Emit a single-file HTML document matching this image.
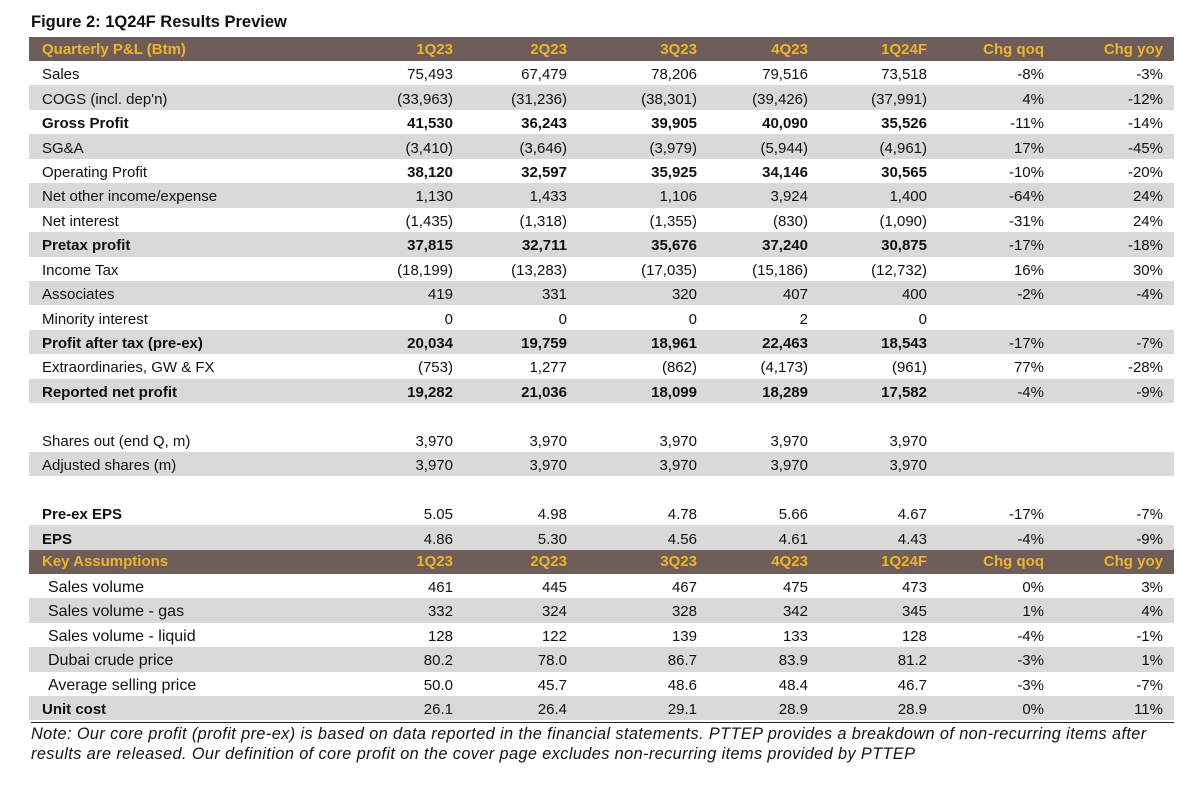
<!DOCTYPE html><html><head><style>
body{margin:0;width:1200px;height:790px;background:#fff;font-family:"Liberation Sans",Arial,sans-serif;position:relative;overflow:hidden;color:#111}
.t{position:absolute;left:31px;top:13px;font-size:16.5px;font-weight:bold}
table{position:absolute;left:29px;top:37px;width:1145px;border-collapse:collapse;font-size:15px;table-layout:fixed}
td{height:21.45px;padding:3px 0 0 0;line-height:21px;text-align:right;white-space:nowrap}
td:first-child{text-align:left;padding-left:13px}
td:last-child{padding-right:11px}
tr.h td{background:#6e5d59;color:#efb42a;font-weight:bold;padding-top:1px;height:23px;line-height:22px}
tr.g td{background:#d9d9d9}
tr.b td{font-weight:bold}
tr.k td:first-child{padding-left:19px;font-size:16px}
.ln{position:absolute;left:31px;top:722px;width:1143px;border-top:1.5px solid #222}
.n{position:absolute;left:31px;top:723px;width:1165px;font-size:16.3px;letter-spacing:0.4px;font-style:italic;line-height:20px;padding-top:1px;white-space:nowrap}
</style></head><body>
<div class="t">Figure 2: 1Q24F Results Preview</div>
<table>
<colgroup><col style="width:300px"><col style="width:124px"><col style="width:114px"><col style="width:130px"><col style="width:111px"><col style="width:119px"><col style="width:117px"><col style="width:130px"></colgroup>
<tr class="h"><td>Quarterly P&amp;L (Btm)</td><td>1Q23</td><td>2Q23</td><td>3Q23</td><td>4Q23</td><td>1Q24F</td><td>Chg qoq</td><td>Chg yoy</td></tr>
<tr><td>Sales</td><td>75,493</td><td>67,479</td><td>78,206</td><td>79,516</td><td>73,518</td><td>-8%</td><td>-3%</td></tr>
<tr class="g"><td>COGS (incl. dep'n)</td><td>(33,963)</td><td>(31,236)</td><td>(38,301)</td><td>(39,426)</td><td>(37,991)</td><td>4%</td><td>-12%</td></tr>
<tr class="b"><td>Gross Profit</td><td>41,530</td><td>36,243</td><td>39,905</td><td>40,090</td><td>35,526</td><td style="font-weight:normal">-11%</td><td style="font-weight:normal">-14%</td></tr>
<tr class="g"><td>SG&amp;A</td><td>(3,410)</td><td>(3,646)</td><td>(3,979)</td><td>(5,944)</td><td>(4,961)</td><td>17%</td><td>-45%</td></tr>
<tr class="b"><td style="font-weight:normal">Operating Profit</td><td>38,120</td><td>32,597</td><td>35,925</td><td>34,146</td><td>30,565</td><td style="font-weight:normal">-10%</td><td style="font-weight:normal">-20%</td></tr>
<tr class="g"><td>Net other income/expense</td><td>1,130</td><td>1,433</td><td>1,106</td><td>3,924</td><td>1,400</td><td>-64%</td><td>24%</td></tr>
<tr><td>Net interest</td><td>(1,435)</td><td>(1,318)</td><td>(1,355)</td><td>(830)</td><td>(1,090)</td><td>-31%</td><td>24%</td></tr>
<tr class="g b"><td>Pretax profit</td><td>37,815</td><td>32,711</td><td>35,676</td><td>37,240</td><td>30,875</td><td style="font-weight:normal">-17%</td><td style="font-weight:normal">-18%</td></tr>
<tr><td>Income Tax</td><td>(18,199)</td><td>(13,283)</td><td>(17,035)</td><td>(15,186)</td><td>(12,732)</td><td>16%</td><td>30%</td></tr>
<tr class="g"><td>Associates</td><td>419</td><td>331</td><td>320</td><td>407</td><td>400</td><td>-2%</td><td>-4%</td></tr>
<tr><td>Minority interest</td><td>0</td><td>0</td><td>0</td><td>2</td><td>0</td><td></td><td></td></tr>
<tr class="g b"><td>Profit after tax (pre-ex)</td><td>20,034</td><td>19,759</td><td>18,961</td><td>22,463</td><td>18,543</td><td style="font-weight:normal">-17%</td><td style="font-weight:normal">-7%</td></tr>
<tr><td>Extraordinaries, GW &amp; FX</td><td>(753)</td><td>1,277</td><td>(862)</td><td>(4,173)</td><td>(961)</td><td>77%</td><td>-28%</td></tr>
<tr class="g b"><td>Reported net profit</td><td>19,282</td><td>21,036</td><td>18,099</td><td>18,289</td><td>17,582</td><td style="font-weight:normal">-4%</td><td style="font-weight:normal">-9%</td></tr>
<tr><td></td><td></td><td></td><td></td><td></td><td></td><td></td><td></td></tr>
<tr><td>Shares out (end Q, m)</td><td>3,970</td><td>3,970</td><td>3,970</td><td>3,970</td><td>3,970</td><td></td><td></td></tr>
<tr class="g"><td>Adjusted shares (m)</td><td>3,970</td><td>3,970</td><td>3,970</td><td>3,970</td><td>3,970</td><td></td><td></td></tr>
<tr><td></td><td></td><td></td><td></td><td></td><td></td><td></td><td></td></tr>
<tr><td style="font-weight:bold">Pre-ex EPS</td><td>5.05</td><td>4.98</td><td>4.78</td><td>5.66</td><td>4.67</td><td>-17%</td><td>-7%</td></tr>
<tr class="g"><td style="font-weight:bold">EPS</td><td>4.86</td><td>5.30</td><td>4.56</td><td>4.61</td><td>4.43</td><td>-4%</td><td>-9%</td></tr>
<tr class="h"><td>Key Assumptions</td><td>1Q23</td><td>2Q23</td><td>3Q23</td><td>4Q23</td><td>1Q24F</td><td>Chg qoq</td><td>Chg yoy</td></tr>
<tr class="k"><td>Sales volume</td><td>461</td><td>445</td><td>467</td><td>475</td><td>473</td><td>0%</td><td>3%</td></tr>
<tr class="k g"><td>Sales volume - gas</td><td>332</td><td>324</td><td>328</td><td>342</td><td>345</td><td>1%</td><td>4%</td></tr>
<tr class="k"><td>Sales volume - liquid</td><td>128</td><td>122</td><td>139</td><td>133</td><td>128</td><td>-4%</td><td>-1%</td></tr>
<tr class="k g"><td>Dubai crude price</td><td>80.2</td><td>78.0</td><td>86.7</td><td>83.9</td><td>81.2</td><td>-3%</td><td>1%</td></tr>
<tr class="k"><td>Average selling price</td><td>50.0</td><td>45.7</td><td>48.6</td><td>48.4</td><td>46.7</td><td>-3%</td><td>-7%</td></tr>
<tr class="g"><td style="font-weight:bold">Unit cost</td><td>26.1</td><td>26.4</td><td>29.1</td><td>28.9</td><td>28.9</td><td>0%</td><td>11%</td></tr>
</table>
<div class="ln"></div>
<div class="n">Note: Our core profit (profit pre-ex) is based on data reported in the financial statements. PTTEP provides a breakdown of non-recurring items after<br>results are released. Our definition of core profit on the cover page excludes non-recurring items provided by PTTEP</div>
</body></html>
